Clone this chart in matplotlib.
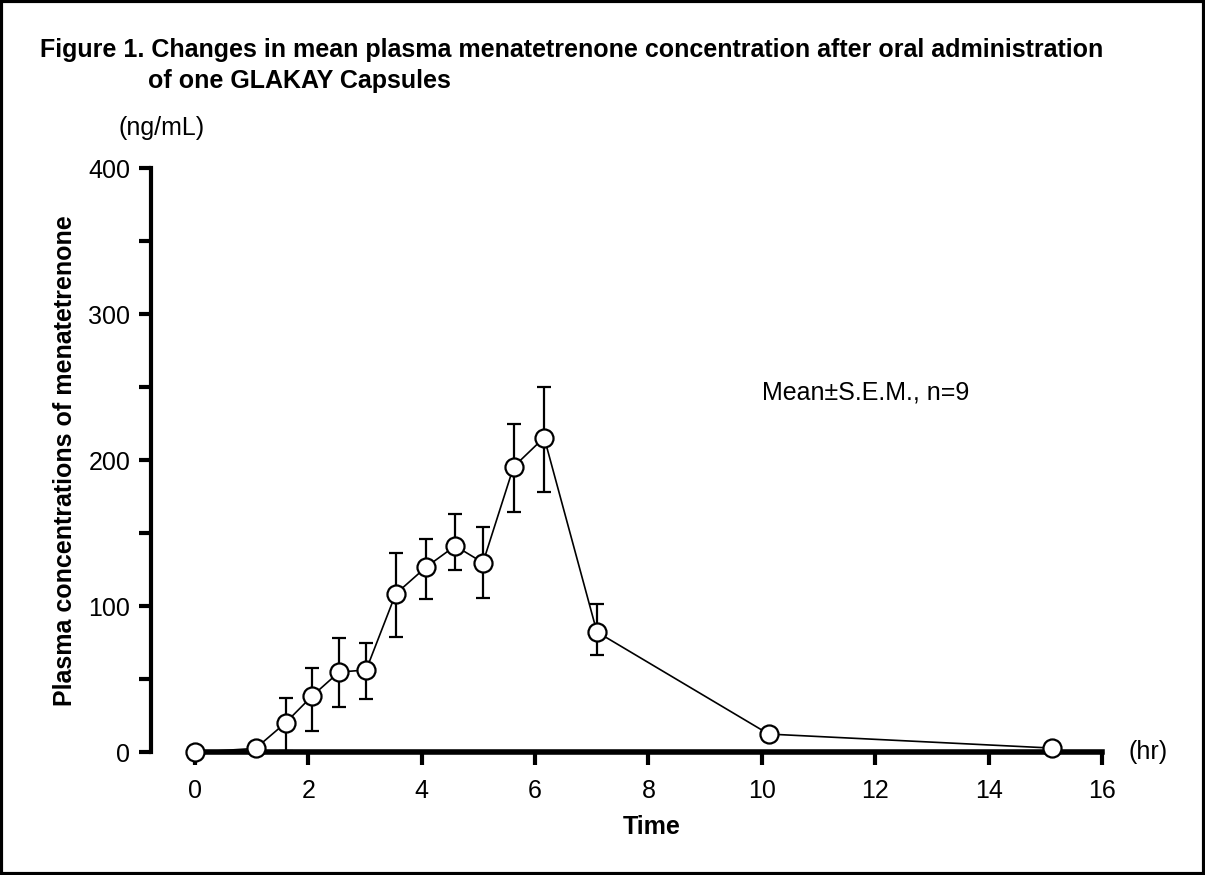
import matplotlib.pyplot as plt
from matplotlib.patches import Rectangle

plt.rcParams['font.family'] = ['Liberation Sans', 'DejaVu Sans']

time_hr = [0, 1.07, 1.60, 2.06, 2.54, 3.02, 3.54, 4.07, 4.59, 5.08, 5.62, 6.16, 7.09, 10.12, 15.12]
mean_conc = [0, 2.7, 20.3, 38.3, 54.9, 56.4, 108.4, 126.6, 141.3, 129.8, 195.4, 215.5, 82.4, 12.5, 2.9]
sem_upper = [0, 0, 17.1, 19.6, 23.7, 18.1, 28.1, 19.2, 22.0, 24.3, 29.6, 34.7, 19.0, 0, 0]
sem_lower = [0, 0, 19.2, 23.7, 24.1, 20.1, 29.7, 21.4, 16.2, 24.3, 31.0, 37.1, 16.0, 0, 0]

x_ticks = [0, 2, 4, 6, 8, 10, 12, 14, 16]
y_ticks = [0, 100, 200, 300, 400]
y_minor = [50, 150, 250, 350]

fs = 18

fig = plt.figure(figsize=(12.05, 8.75), dpi=100)
fig.patch.set_facecolor('white')
ax = fig.add_axes([0.1253, 0.1402, 0.7892, 0.6678])

# error bars first, then line and open circles on top
ax.errorbar(time_hr, mean_conc, yerr=[sem_lower, sem_upper], fmt='none', ecolor='black',
            elinewidth=1.6, capsize=5, capthick=1.6, zorder=2, clip_on=False)
ax.plot(time_hr, mean_conc, color='black', linewidth=1.2, marker='o', markersize=13,
        markerfacecolor='white', markeredgecolor='black', markeredgewidth=1.6,
        zorder=3, clip_on=False)

ax.set_xlim(-0.776, 16)
ax.set_ylim(0, 400)
ax.spines['top'].set_visible(False)
ax.spines['right'].set_visible(False)
ax.spines['bottom'].set_bounds(0, 16)
ax.spines['bottom'].set_linewidth(4)
ax.spines['left'].set_linewidth(3)
ax.spines['left'].set_bounds(0, 400)

ax.set_xticks(x_ticks)
ax.set_xticklabels([str(t) for t in x_ticks], fontsize=fs)
ax.set_yticks(y_ticks)
ax.set_yticklabels([str(t) for t in y_ticks], fontsize=fs)
ax.set_yticks(y_minor, minor=True)
ax.tick_params(axis='both', which='both', direction='out', length=9, width=3, color='black')
ax.tick_params(axis='x', pad=10)
ax.tick_params(axis='y', pad=6)

ax.set_xlabel('Time', fontsize=fs, fontweight='bold')
ax.xaxis.set_label_coords(0.526, -0.107)
ax.set_ylabel('Plasma concentrations of menatetrenone', fontsize=fs, fontweight='bold', labelpad=8)

fig.text(40 / 1205, 1 - 50 / 875, 'Figure 1. Changes in mean plasma menatetrenone concentration after oral administration',
         fontsize=fs, fontweight='bold', ha='left', va='center')
fig.text(148 / 1205, 1 - 81 / 875, 'of one GLAKAY Capsules',
         fontsize=fs, fontweight='bold', ha='left', va='center')
fig.text(118 / 1205, 1 - 128 / 875, '(ng/mL)', fontsize=fs, ha='left', va='center')
fig.text(1128 / 1205, 1 - 752 / 875, '(hr)', fontsize=fs, ha='left', va='center')
fig.text(762 / 1205, 1 - 393 / 875, 'Mean±S.E.M., n=9', fontsize=fs, ha='left', va='center')

fig.patches.append(Rectangle((0.001, 0.001), 0.998, 0.998, transform=fig.transFigure,
                             fill=False, edgecolor='black', linewidth=3))

fig.savefig('out.png', dpi=100)
